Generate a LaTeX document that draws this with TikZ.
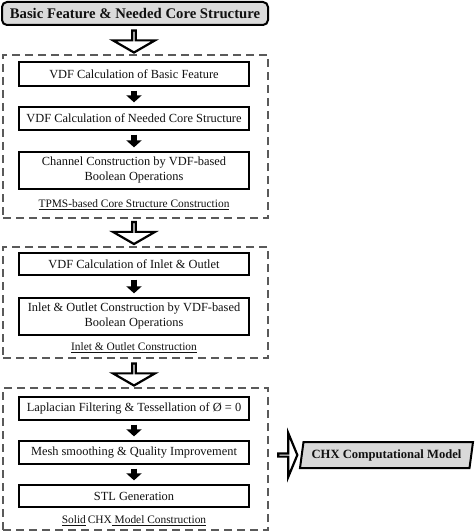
\documentclass[tikz,border=0pt]{standalone}
\usepackage{fontspec}
\setmainfont{Liberation Serif}
\usetikzlibrary{shapes.geometric,shapes.arrows,arrows.meta}
\definecolor{txt}{HTML}{111111}
\definecolor{dashgray}{HTML}{5A5A5A}
\tikzset{
  stepbox/.style={draw=black, line width=1.3pt, fill=white, minimum width=230pt, inner sep=0pt, align=center, font=\fontsize{12.4}{15}\selectfont, text=txt},
  groupbox/.style={draw=dashgray, line width=1.6pt, dash pattern=on 8pt off 5pt, minimum width=265pt, inner sep=0pt},
  grouplabel/.style={font=\fontsize{11.4}{13}\selectfont, text=txt, inner sep=0pt},
  hollowdown/.style={single arrow, draw=black, line width=2.2pt, fill=white, minimum width=42pt, minimum height=22pt, single arrow head extend=12pt, single arrow tip angle=120, shape border rotate=270, inner sep=0pt},
  hollowright/.style={single arrow, draw=black, line width=2.2pt, fill=white, minimum width=44pt, minimum height=19pt, single arrow head extend=14pt, single arrow tip angle=135, inner sep=0pt},
  flow/.style={line width=6pt, -{Triangle[width=15pt,length=7pt]}, shorten <=4pt, shorten >=4pt}
}
\begin{document}
\begin{tikzpicture}[x=1pt,y=-1pt]
\useasboundingbox (0,0) rectangle (474,532);
% title
\node (top) [draw=black, line width=2pt, rounded corners=5pt, fill=gray!28, minimum width=266pt, minimum height=23pt, inner sep=0pt, font=\bfseries\fontsize{14.7}{16}\selectfont, text=txt] at (135,13.5) {Basic Feature \& Needed Core Structure};
\node (h1) [hollowdown] at (134,41) {};
% group 1
\node (g1) [groupbox, minimum height=163pt] at (135.5,136.5) {};
\node (b1) [stepbox, minimum height=24pt] at (134,74) {VDF Calculation of Basic Feature};
\node (b2) [stepbox, minimum height=23pt] at (134,118.5) {VDF Calculation of Needed Core Structure};
\node (b3) [stepbox, minimum height=37pt] at (134,170.5) {Channel Construction by VDF-based\\Boolean Operations};
\node (l1) [grouplabel] at (134,205) {\underline{TPMS-based Core Structure Construction}};
\draw[flow] (b1) -- (b2);
\draw[flow] (b2) -- (b3);
\node (h2) [hollowdown] at (134,232.5) {};
% group 2
\node (g2) [groupbox, minimum height=111pt] at (135.5,302.5) {};
\node (b4) [stepbox, minimum height=22pt] at (134,264) {VDF Calculation of Inlet \& Outlet};
\node (b5) [stepbox, minimum height=37pt] at (134,316.5) {Inlet \& Outlet Construction by VDF-based\\Boolean Operations};
\node (l2) [grouplabel] at (134,348) {\underline{Inlet \& Outlet Construction}};
\draw[flow] (b4) -- (b5);
\node (h3) [hollowdown] at (134,374) {};
% group 3
\node (g3) [groupbox, minimum height=142pt] at (135.5,459) {};
\node (b6) [stepbox, minimum height=23pt] at (134,408.5) {Laplacian Filtering \& Tessellation of Ø = 0};
\node (b7) [stepbox, minimum height=23pt] at (134,452.5) {Mesh smoothing \& Quality Improvement};
\node (b8) [stepbox, minimum height=22pt] at (134,496) {STL Generation};
\node (l3) [grouplabel] at (134,521) {\underline{Solid}\,CHX\underline{ Model Construction}};
\draw[flow] (b6) -- (b7);
\draw[flow] (b7) -- (b8);
% output
\node (h4) [hollowright] at (287.5,455) {};
\node (chx) [trapezium, trapezium left angle=73, trapezium right angle=107, draw=black, line width=2pt, fill=gray!30, minimum width=173pt, minimum height=26pt, inner sep=0pt, trapezium stretches body, font=\bfseries\fontsize{12.6}{14}\selectfont, text=txt] at (386.5,455) {CHX Computational Model};
\end{tikzpicture}
\end{document}
